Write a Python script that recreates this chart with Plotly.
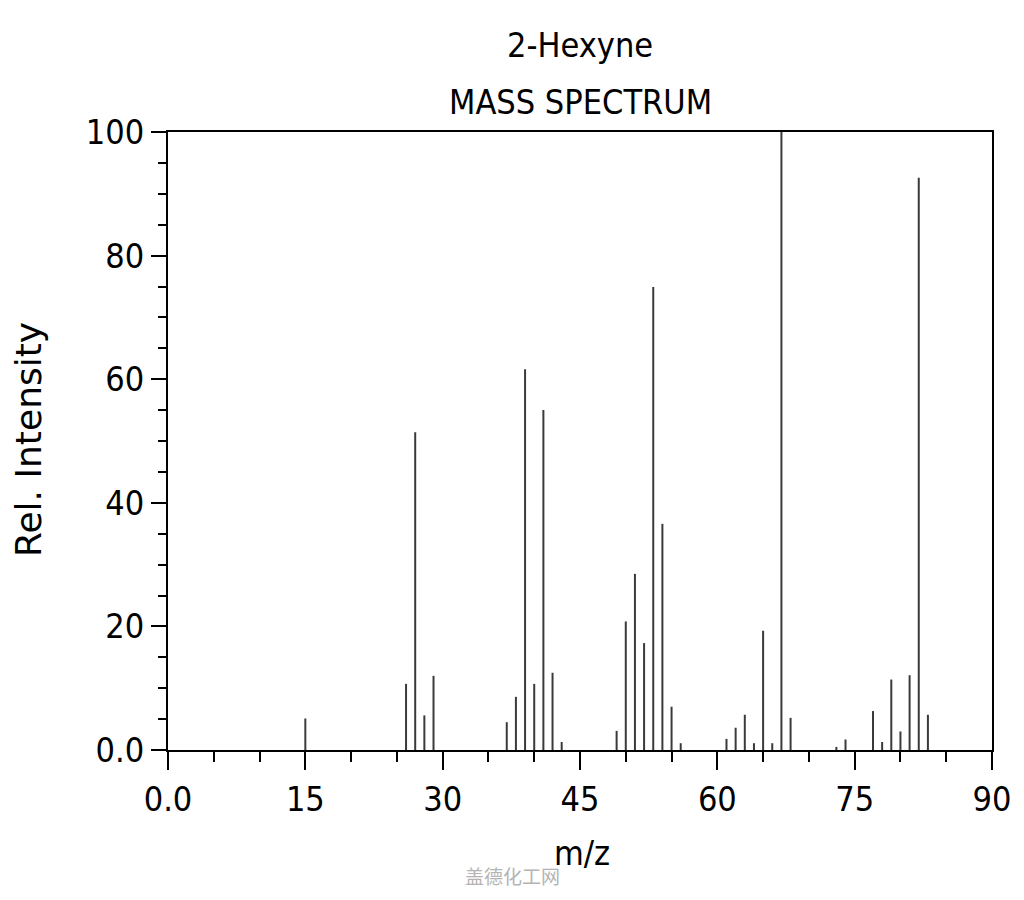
import plotly.graph_objects as go

# m/z positions and relative intensities
mz = [15, 26, 27, 28, 29,
      37, 38, 39, 40, 41, 42, 43,
      49, 50, 51, 52, 53, 54, 55, 56,
      61, 62, 63, 64, 65, 66, 67, 68,
      73, 74, 77, 78, 79, 80, 81, 82, 83]
intensity = [5.1, 10.7, 51.4, 5.6, 12.0,
             4.5, 8.6, 61.6, 10.7, 55.0, 12.5, 1.3,
             3.1, 20.8, 28.5, 17.3, 74.9, 36.6, 7.0, 1.1,
             1.8, 3.6, 5.7, 1.1, 19.3, 1.1, 100.0, 5.2,
             0.5, 1.7, 6.3, 1.3, 11.4, 3.0, 12.1, 92.6, 5.7]

x_ticks = [0, 15, 30, 45, 60, 75, 90]
x_tick_labels = ["0.0", "15", "30", "45", "60", "75", "90"]
y_ticks = [0, 20, 40, 60, 80, 100]
y_tick_labels = ["0.0", "20", "40", "60", "80", "100"]

FONT = "DejaVu Sans Condensed, DejaVu Sans"
FONT_WIDE = "DejaVu Sans"

# plot area in page pixels: left 168, right 992, top 132, bottom 750 (page has 8px body offset)
PH = 618.0
PW = 824.0


def py(p):
    return (750 - p) / PH


def px(p):
    return (p - 168) / PW


# stick spectrum: one vertical segment per peak, built from the data arrays
stick_x, stick_y = [], []
for m, v in zip(mz, intensity):
    stick_x += [m, m, None]
    stick_y += [0, v, None]

fig = go.Figure()
fig.add_trace(go.Scatter(
    x=stick_x, y=stick_y, mode="lines",
    line=dict(color="#3a3a3a", width=2),
    hoverinfo="skip", showlegend=False,
))

fig.update_layout(
    width=1024, height=900,
    margin=dict(l=160, r=40, t=124, b=158),
    paper_bgcolor="white", plot_bgcolor="white",
    font=dict(family=FONT, color="black", size=34),
    annotations=[
        dict(text="2-Hexyne", x=0.5, y=py(45), xref="paper", yref="paper",
             showarrow=False, font=dict(size=34, family=FONT), xanchor="center", yanchor="middle"),
        dict(text="MASS SPECTRUM", x=0.5, y=py(102), xref="paper", yref="paper",
             showarrow=False, font=dict(size=34, family=FONT), xanchor="center", yanchor="middle"),
        dict(text="m/z", x=px(582), y=py(853), xref="paper", yref="paper",
             showarrow=False, font=dict(size=34, family=FONT), xanchor="center", yanchor="middle"),
        dict(text="Rel. Intensity", x=px(28), y=py(440), xref="paper", yref="paper",
             textangle=-90, showarrow=False, font=dict(size=36, family=FONT_WIDE),
             xanchor="center", yanchor="middle"),
        dict(text="盖德化工网", x=px(512), y=py(875), xref="paper", yref="paper",
             showarrow=False, font=dict(size=19, family="Noto Sans CJK SC", color="#b4b4b4"),
             xanchor="center", yanchor="middle"),
    ],
)

fig.update_xaxes(
    range=[0, 90], tickmode="array", tickvals=x_ticks, ticktext=x_tick_labels,
    ticks="outside", ticklen=18, tickwidth=2, tickcolor="black",
    minor=dict(dtick=5, tick0=0, ticks="outside", ticklen=10, tickwidth=2, tickcolor="black"),
    showline=True, linewidth=2, linecolor="black", mirror=True,
    showgrid=False, zeroline=False,
    tickfont=dict(size=34, family=FONT),
)
fig.update_yaxes(
    range=[0, 100], tickmode="array", tickvals=y_ticks, ticktext=y_tick_labels,
    ticks="outside", ticklen=15, tickwidth=2, tickcolor="black",
    minor=dict(dtick=5, tick0=0, ticks="outside", ticklen=8, tickwidth=2, tickcolor="black"),
    showline=True, linewidth=2, linecolor="black", mirror=True,
    showgrid=False, zeroline=False,
    tickfont=dict(size=34, family=FONT),
)

fig.write_html("out.html")
